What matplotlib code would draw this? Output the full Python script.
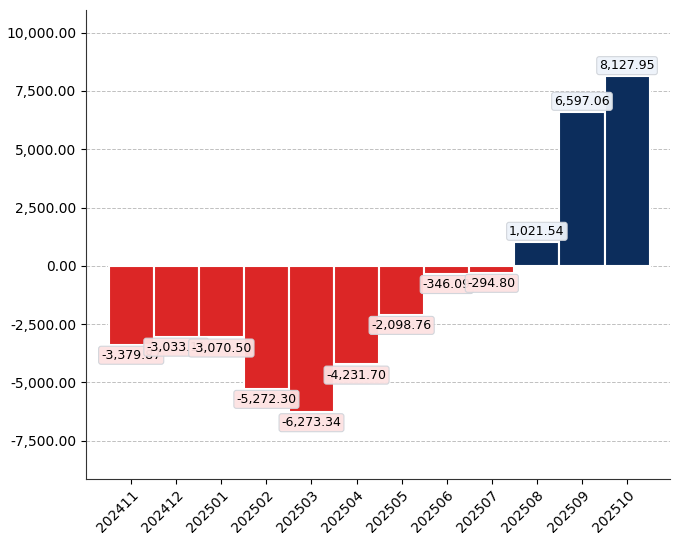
import matplotlib.pyplot as plt
from matplotlib.ticker import FuncFormatter
import numpy as np

months = ['202411', '202412', '202501', '202502', '202503', '202504',
          '202505', '202506', '202507', '202508', '202509', '202510']
values = [-3379.87, -3033.11, -3070.50, -5272.30, -6273.34, -4231.70,
          -2098.76, -346.09, -294.80, 1021.54, 6597.06, 8127.95]

RED = '#dc2626'
BLUE = '#0c2d5c'


def main():
    fig, ax = plt.subplots(figsize=(6.78, 5.33), dpi=100)
    fig.subplots_adjust(left=0.127, right=0.988, top=0.982, bottom=0.102)

    x = np.arange(len(values))
    colors = [BLUE if v >= 0 else RED for v in values]
    ax.bar(x, values, width=1.0, color=colors, edgecolor='white',
           linewidth=1.5, zorder=2)

    for xi, v in zip(x, values):
        if v >= 0:
            face, off, va = '#eef3fa', 3, 'bottom'
        else:
            face, off, va = '#fde2e2', -3, 'top'
        ax.annotate(f'{v:,.2f}', (xi, v), xytext=(0, off),
                    textcoords='offset points', ha='center', va=va,
                    fontsize=9, zorder=5,
                    bbox=dict(boxstyle='round,pad=0.2', fc=face,
                              ec='#d0d4da', lw=0.8, alpha=0.95))

    ax.set_xlim(-1.0, 11.95)
    ax.set_ylim(-9130, 10990)
    ax.set_yticks(np.arange(-7500, 10001, 2500))
    ax.yaxis.set_major_formatter(FuncFormatter(lambda v, p: f'{v:,.2f}'))

    ax.set_xticks(x)
    ax.set_xticklabels(months, rotation=45, ha='right', rotation_mode='anchor')
    ax.tick_params(labelsize=10)

    ax.grid(axis='y', linestyle='--', color='#c0c0c0', linewidth=0.7, zorder=0)
    ax.set_axisbelow(True)
    for s in ['top', 'right']:
        ax.spines[s].set_visible(False)
    for s in ['left', 'bottom']:
        ax.spines[s].set_color('#333333')

    fig.savefig('out.png', dpi=100)
    plt.close(fig)


if __name__ == '__main__':
    main()
